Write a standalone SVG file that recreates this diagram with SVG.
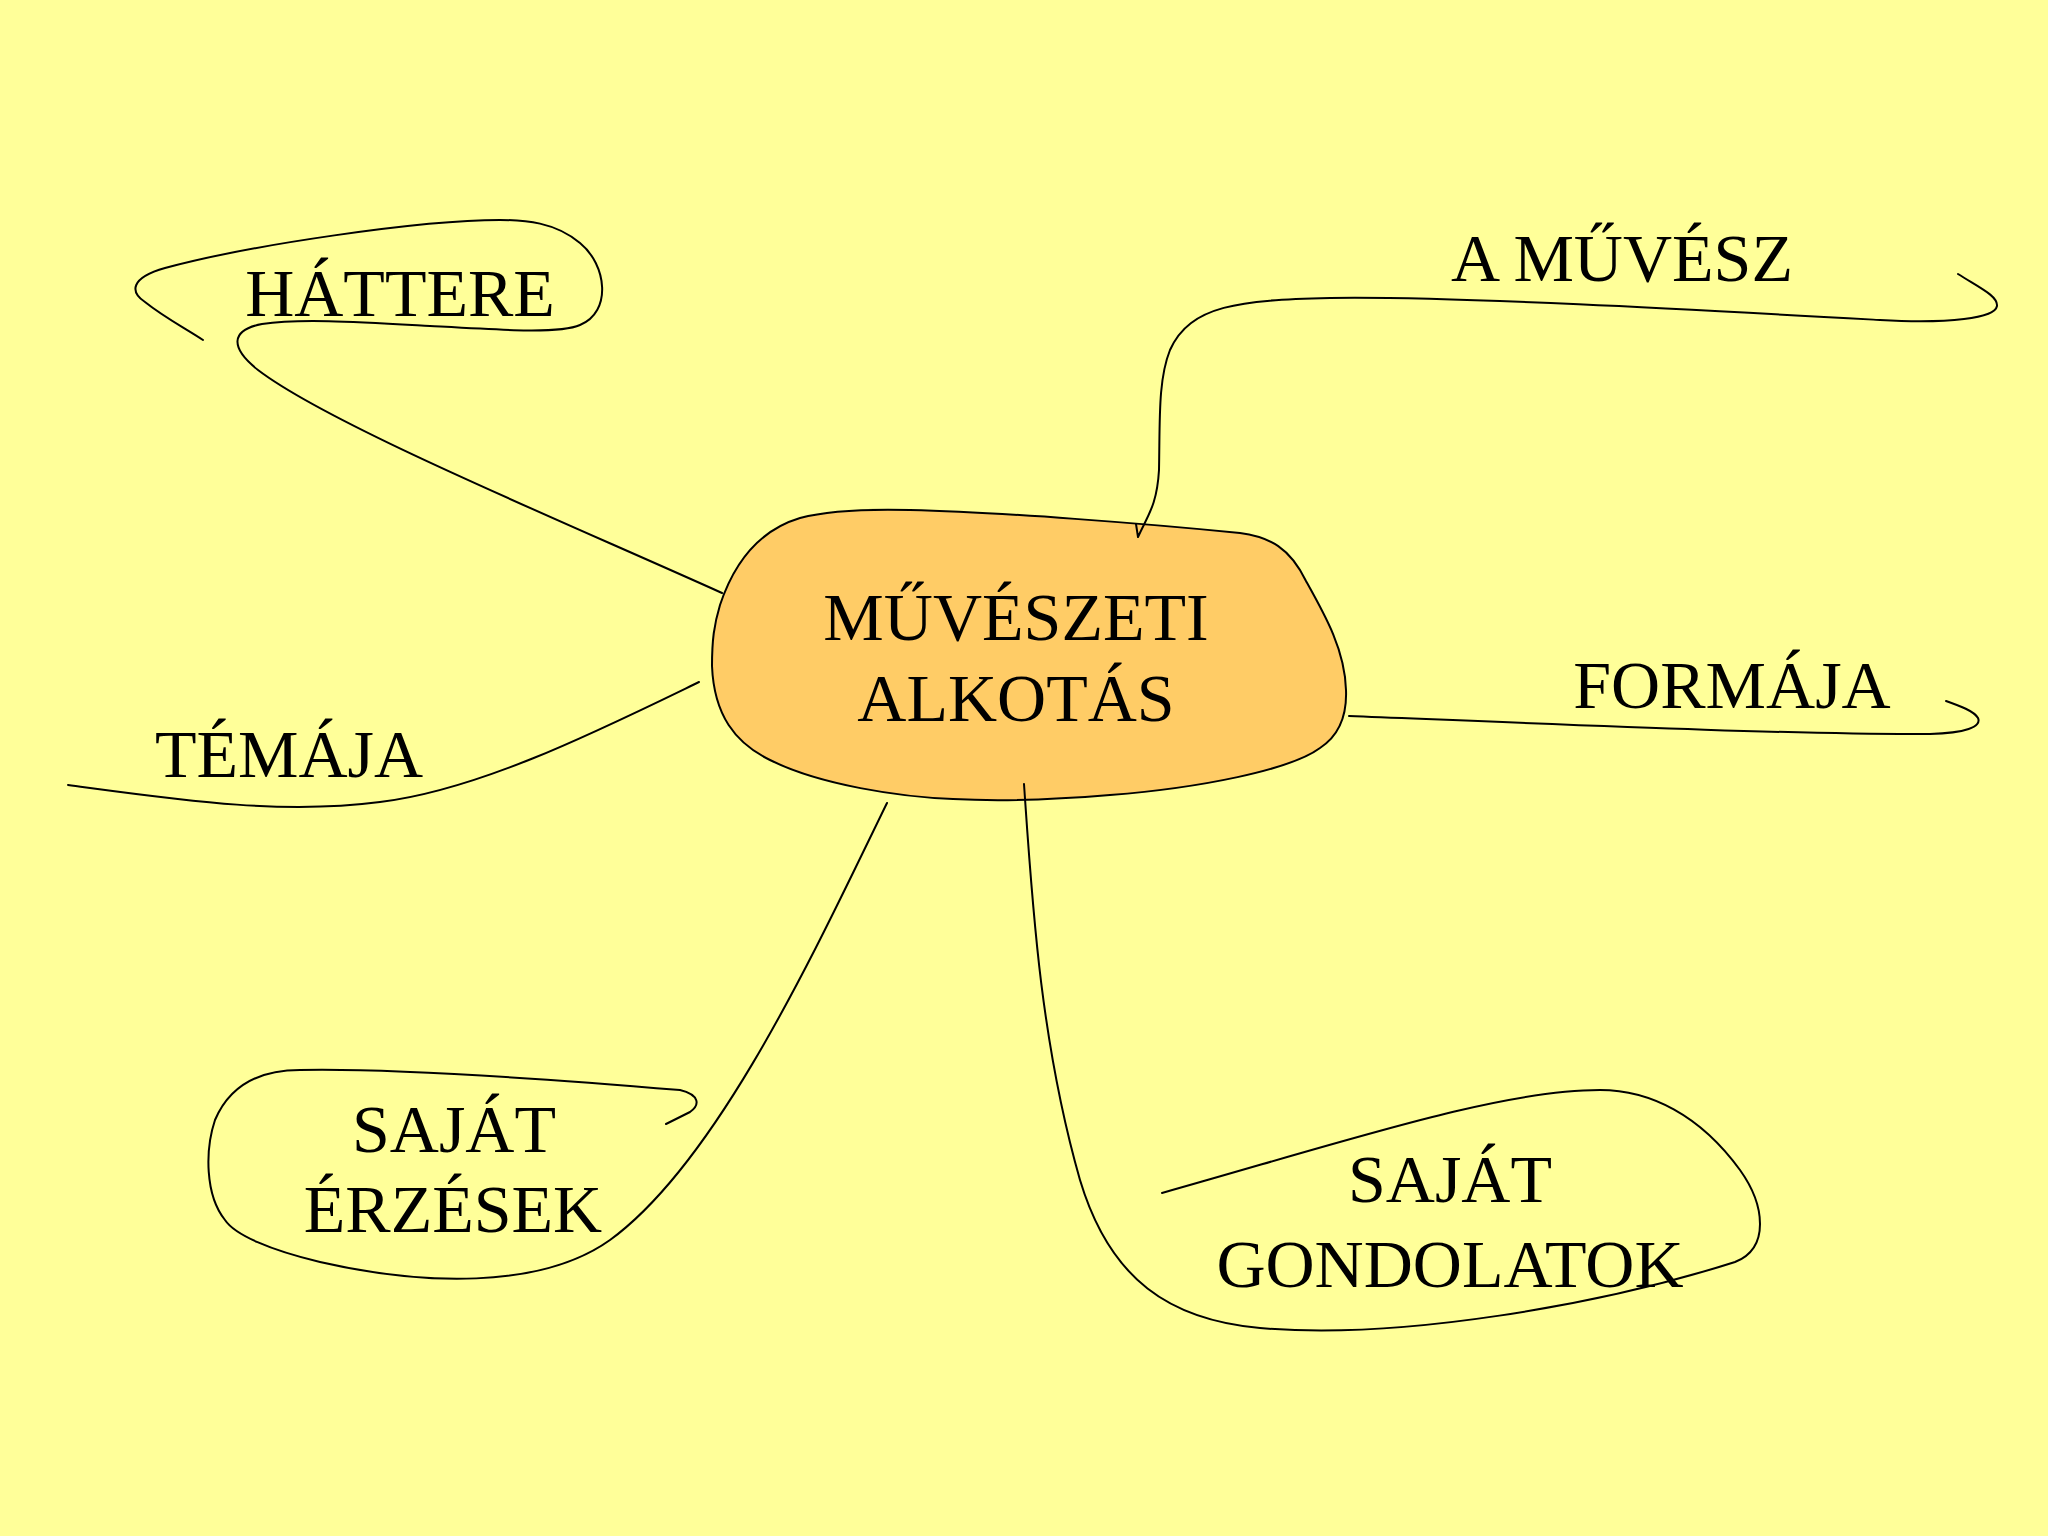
<svg xmlns="http://www.w3.org/2000/svg" width="2048" height="1536" viewBox="0 0 2048 1536">
<style>
.lbl{font-family:"Liberation Serif","Times New Roman",serif;font-size:68px;fill:#000;text-anchor:middle}
.con{fill:none;stroke:#000;stroke-width:2;stroke-linecap:round;stroke-linejoin:round}
</style>
<rect width="2048" height="1536" fill="#FFFF99"/>
<g id="center">
<path d="M 712,666 C 712,640 714,625 720,605 C 735,560 760,530 800,518 C 830,510 870,509 910,510 C 1000,512 1150,524 1240,533 C 1270,537 1290,548 1306,581 C 1325,615 1345,650 1346,690 C 1347,715 1340,735 1320,748 C 1290,770 1200,788 1110,795 C 1050,800 990,801 953,799 C 900,797 820,785 770,760 C 735,743 714,715 712,666 Z" fill="#FFCC66" stroke="#000" stroke-width="2"/>
<text class="lbl" x="1016" y="640">MŰVÉSZETI</text>
<text class="lbl" x="1016" y="721">ALKOTÁS</text>
</g>
<g id="connectors">
<path class="con" d="M 722,593 C 560,520 330,425 258,370 C 230,348 230,330 262,324 C 300,318 360,322 430,326 C 500,330 560,334 580,325 C 612,312 607,265 580,243 C 555,222 525,220 500,220 C 420,220 250,245 165,268 C 130,278 130,292 145,302 C 165,318 185,328 203,340"/>
<path class="con" d="M 1136,524 L 1138,537 C 1148,515 1157,505 1159,470 C 1160,420 1158,380 1170,350 C 1190,305 1240,300 1330,298 C 1450,296 1700,310 1880,320 C 1950,324 1995,318 1997,306 C 1998,296 1980,288 1958,274"/>
<path class="con" d="M 1349,716 C 1550,724 1800,735 1930,734 C 1965,733 1982,727 1978,718 C 1974,711 1960,706 1946,701"/>
<path class="con" d="M 699,682 C 600,730 480,790 380,802 C 280,815 180,800 68,785"/>
<path class="con" d="M 887,803 C 820,940 720,1160 610,1240 C 540,1290 420,1285 320,1262 C 270,1250 235,1235 225,1220 C 205,1195 205,1150 215,1120 C 230,1085 260,1070 300,1070 C 400,1068 560,1080 680,1090 C 700,1095 700,1105 690,1112 L 666,1124"/>
<path class="con" d="M 1024,784 C 1032,900 1040,1040 1080,1180 C 1110,1280 1170,1320 1260,1328 C 1400,1340 1600,1305 1735,1262 C 1770,1248 1765,1205 1740,1170 C 1700,1115 1650,1090 1600,1090 C 1500,1090 1350,1140 1162,1193"/>
</g>
<g id="hattere"><text class="lbl" x="400" y="316">HÁTTERE</text></g>
<g id="a-muvesz"><text class="lbl" x="1622" y="281">A MŰVÉSZ</text></g>
<g id="formaja"><text class="lbl" x="1732" y="708">FORMÁJA</text></g>
<g id="temaja"><text class="lbl" x="289" y="777">TÉMÁJA</text></g>
<g id="sajat-erzesek"><text class="lbl" x="454" y="1152">SAJÁT</text><text class="lbl" x="453" y="1232">ÉRZÉSEK</text></g>
<g id="sajat-gondolatok"><text class="lbl" x="1450" y="1202">SAJÁT</text><text class="lbl" x="1450" y="1287">GONDOLATOK</text></g>
</svg>
